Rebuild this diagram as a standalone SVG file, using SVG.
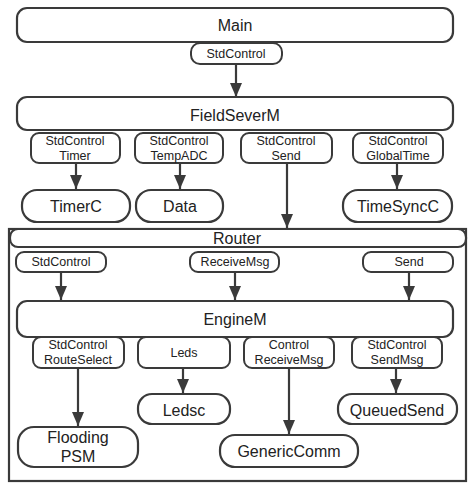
<svg xmlns="http://www.w3.org/2000/svg" width="474" height="486" viewBox="0 0 474 486">
<defs>
<marker id="ah" viewBox="0 0 14 12" refX="14" refY="6" markerWidth="14" markerHeight="12" markerUnits="userSpaceOnUse" orient="auto">
<path d="M0,0 L14,6 L0,12 z" fill="#3a3a3a"/>
</marker>
<style>
.n{fill:#fff;stroke:#3a3a3a;stroke-width:2.2}
.p{fill:#fff;stroke:#3a3a3a;stroke-width:2}
.t{font-family:"Liberation Sans",Arial,sans-serif;font-size:16px;fill:#222;text-anchor:middle}
.s{font-family:"Liberation Sans",Arial,sans-serif;font-size:12.5px;fill:#222;text-anchor:middle}
.c{stroke:#3a3a3a;stroke-width:2.2;fill:none;marker-end:url(#ah)}
</style>
</defs>
<rect width="474" height="486" fill="#fff"/>

<g id="router">
<rect x="9" y="229" width="457" height="252" fill="none" stroke="#3a3a3a" stroke-width="2.2"/>
<rect class="n" x="10" y="229" width="456" height="18" rx="8"/>
<text class="t" x="237" y="244">Router</text>
</g>

<g id="main"><rect class="n" x="17" y="8" width="436" height="34" rx="10"/><text class="t" x="235" y="31">Main</text></g>
<g id="p-main-std"><rect class="p" x="191" y="43" width="91" height="21" rx="9"/><text class="s" x="236" y="58">StdControl</text></g>

<g id="fieldseverm"><rect class="n" x="17" y="97" width="436" height="33" rx="10"/><text class="t" x="235" y="121">FieldSeverM</text></g>

<g id="p-timer"><rect class="p" x="31" y="133" width="89" height="30" rx="8"/><text class="s" x="75" y="145">StdControl</text><text class="s" x="75" y="160">Timer</text></g>
<g id="p-tempadc"><rect class="p" x="135" y="133" width="88" height="30" rx="8"/><text class="s" x="179" y="145">StdControl</text><text class="s" x="179" y="160">TempADC</text></g>
<g id="p-send"><rect class="p" x="241" y="133" width="91" height="30" rx="8"/><text class="s" x="286" y="145">StdControl</text><text class="s" x="286" y="160">Send</text></g>
<g id="p-globaltime"><rect class="p" x="353" y="133" width="90" height="30" rx="8"/><text class="s" x="398" y="145">StdControl</text><text class="s" x="398" y="160">GlobalTime</text></g>

<g id="timerc"><rect class="n" x="22" y="190" width="108" height="32" rx="15"/><text class="t" x="76" y="212">TimerC</text></g>
<g id="data"><rect class="n" x="136" y="190" width="87" height="32" rx="15"/><text class="t" x="180" y="212">Data</text></g>
<g id="timesyncc"><rect class="n" x="343" y="190" width="109" height="32" rx="15"/><text class="t" x="398" y="212">TimeSyncC</text></g>

<g id="p-r-std"><rect class="p" x="16" y="252" width="90" height="20" rx="8"/><text class="s" x="61" y="266">StdControl</text></g>
<g id="p-r-recv"><rect class="p" x="190" y="252" width="89" height="20" rx="8"/><text class="s" x="235" y="266">ReceiveMsg</text></g>
<g id="p-r-send"><rect class="p" x="363" y="252" width="90" height="20" rx="8"/><text class="s" x="409" y="266">Send</text></g>

<g id="enginem"><rect class="n" x="17" y="301" width="436" height="36" rx="10"/><text class="t" x="235" y="325">EngineM</text></g>

<g id="p-routeselect"><rect class="p" x="33" y="337" width="91" height="31" rx="8"/><text class="s" x="78" y="349">StdControl</text><text class="s" x="78" y="364">RouteSelect</text></g>
<g id="p-leds"><rect class="p" x="138" y="337" width="92" height="31" rx="8"/><text class="s" x="184" y="357">Leds</text></g>
<g id="p-control"><rect class="p" x="244" y="337" width="90" height="31" rx="8"/><text class="s" x="289" y="349">Control</text><text class="s" x="289" y="364">ReceiveMsg</text></g>
<g id="p-sendmsg"><rect class="p" x="352" y="337" width="90" height="31" rx="8"/><text class="s" x="397" y="349">StdControl</text><text class="s" x="397" y="364">SendMsg</text></g>

<g id="flooding"><rect class="n" x="18" y="427" width="120" height="40" rx="16"/><text class="t" x="78" y="443">Flooding</text><text class="t" x="78" y="462">PSM</text></g>
<g id="ledsc"><rect class="n" x="138" y="394" width="92" height="30" rx="14"/><text class="t" x="184" y="416">Ledsc</text></g>
<g id="genericcomm"><rect class="n" x="220" y="435" width="138" height="32" rx="15"/><text class="t" x="289" y="457">GenericComm</text></g>
<g id="queuedsend"><rect class="n" x="338" y="394" width="119" height="30" rx="14"/><text class="t" x="397" y="416">QueuedSend</text></g>

<g id="connectors">
<line class="c" x1="236" y1="64" x2="236" y2="97"/>
<line class="c" x1="76" y1="163" x2="76" y2="189"/>
<line class="c" x1="180" y1="163" x2="180" y2="189"/>
<line class="c" x1="397" y1="163" x2="397" y2="189"/>
<line class="c" x1="287" y1="163" x2="287" y2="228"/>
<line class="c" x1="61" y1="272" x2="61" y2="300"/>
<line class="c" x1="235" y1="272" x2="235" y2="300"/>
<line class="c" x1="409" y1="272" x2="409" y2="300"/>
<line class="c" x1="78" y1="368" x2="78" y2="426"/>
<line class="c" x1="183" y1="368" x2="183" y2="393"/>
<line class="c" x1="289" y1="368" x2="289" y2="434"/>
<line class="c" x1="396" y1="368" x2="396" y2="393"/>
</g>
</svg>
